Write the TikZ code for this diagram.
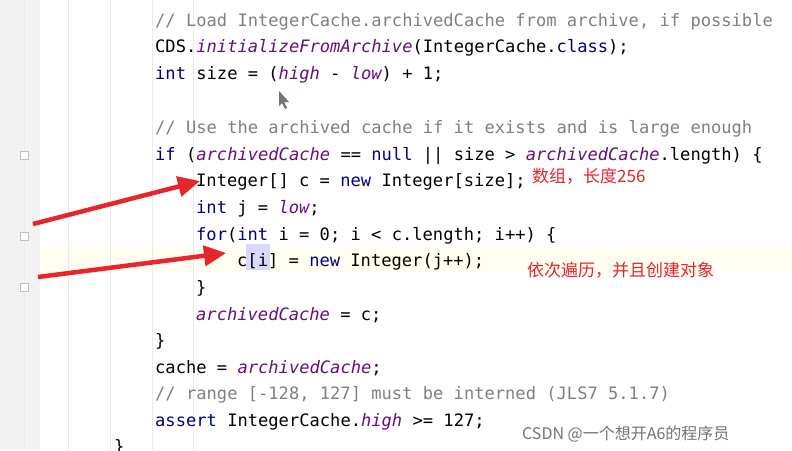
\documentclass[tikz,border=0pt]{standalone}
\usepackage{fontspec}
\setmonofont{DejaVu Sans Mono}
\newfontfamily\cjk{Noto Sans CJK SC}
\definecolor{kwc}{HTML}{000080}
\definecolor{fldc}{HTML}{660E7A}
\definecolor{cmc}{HTML}{808080}
\definecolor{arr}{HTML}{E8252B}
\newcommand{\kw}[1]{\textcolor{kwc}{#1}}
\newcommand{\fld}[1]{\textcolor{fldc}{\itshape #1}}
\usetikzlibrary{arrows.meta}
\tikzset{code/.style={anchor=base west,inner sep=0pt,font=\ttfamily\fontsize{17.1pt}{17pt}\selectfont},
 note/.style={anchor=base west,inner sep=0pt,text=arr,font=\cjk\fontsize{17pt}{17pt}\selectfont},
 redarrow/.style={draw=arr,line width=4.5pt,-{Triangle[length=22pt,width=20pt]}},
 guide/.style={draw=black!8,line width=0.8pt}}
\begin{document}
\begin{tikzpicture}[x=1pt,y=-1pt]
\fill[white] (0,0) rectangle (792,450);
\useasboundingbox (0,0) rectangle (792,450);
\fill[black!5] (0,0) rectangle (40,450);
\fill[yellow!6] (40,247) rectangle (792,273);
\foreach \x in {24,68,110,152,193}{\draw[guide] (\x,0) -- (\x,450);}
\foreach \y/\n in {155/f1,236/f2,287/f3}{\node[draw=black!25,fill=white,minimum size=8pt,inner sep=0pt] (\n) at (24,\y) {};}
\fill[fill=blue!15] (246,244) rectangle (270,270);
\node[code] (l1) at (155,26) {\textcolor{cmc}{// Load IntegerCache.archivedCache from archive, if possible}};
\node[code] (l2) at (155,52) {CDS.\fld{initializeFromArchive}(IntegerCache.\kw{class});};
\node[code] (l3) at (155,79) {\kw{int} size = (\fld{high} - \fld{low}) + 1;};
\node[code] (l5) at (155,133) {\textcolor{cmc}{// Use the archived cache if it exists and is large enough}};
\node[code] (l6) at (155,160) {\kw{if} (\fld{archivedCache} == \kw{null} || size > \fld{archivedCache}.length) \{};
\node[code] (l7) at (196,186) {Integer[] c = \kw{new} Integer[size];};
\node[code] (l8) at (196,213) {\kw{int} j = \fld{low};};
\node[code] (l9) at (196,240) {\kw{for}(\kw{int} i = 0; i < c.length; i++) \{};
\node[code] (l10) at (237,266) {c[i] = \kw{new} Integer(j++);};
\node[code] (l11) at (196,293) {\}};
\node[code] (l12) at (196,320) {\fld{archivedCache} = c;};
\node[code] (l13) at (155,346) {\}};
\node[code] (l14) at (155,373) {cache = \fld{archivedCache};};
\node[code] (l15) at (155,399) {\textcolor{cmc}{// range [-128, 127] must be interned (JLS7 5.1.7)}};
\node[code] (l16) at (155,426) {\kw{assert} IntegerCache.\fld{high} >= 127;};
\node[code] (l17) at (114,452) {\}};
\node[note] (n1) at (532,182) {数组，长度256};
\node[note] (n2) at (527,276) {依次遍历，并且创建对象};
\node[anchor=base west,inner sep=0pt,text=black!55,font=\cjk\fontsize{16pt}{16pt}\selectfont] (wm) at (522,439) {CSDN @一个想开A6的程序员};
\fill[black!55] (279,91) -- (279,106) -- (282,103) -- (285,109) -- (287,108) -- (284,102) -- (289,102) -- cycle;
\coordinate (a1s) at (33,224);
\coordinate (a1e) at (200,181);
\coordinate (a2s) at (38,277);
\coordinate (a2e) at (226,253);
\draw[redarrow] (a1s) -- (a1e);
\draw[redarrow] (a2s) -- (a2e);
\end{tikzpicture}
\end{document}
